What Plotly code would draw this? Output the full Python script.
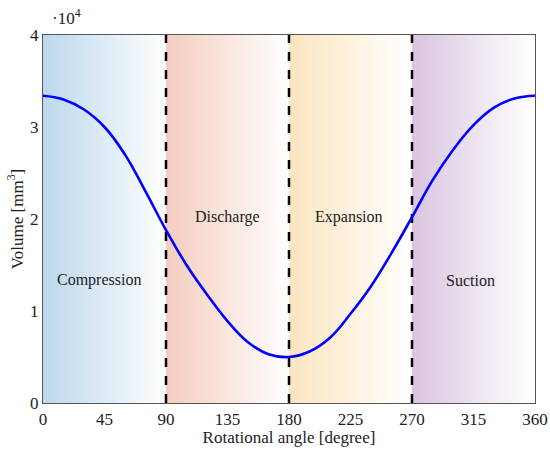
import plotly.graph_objects as go

# rotational angle [deg] and chamber volume [mm^3]
angle = [0, 15, 30, 45, 60, 75, 90, 105, 120, 135, 150, 165, 180,
         195, 210, 225, 240, 255, 270, 285, 300, 315, 330, 345, 360]
volume = [33400, 33000, 31900, 30000, 27000, 23000, 18800, 15000, 11800, 8900, 6600, 5300, 5000,
          5600, 7100, 9700, 12700, 16300, 20200, 24200, 27500, 30200, 32100, 33100, 33400]

phase_names = ['Compression', 'Discharge', 'Expansion', 'Suction']
phase_edges = [0, 90, 180, 270, 360]
phase_colors = ['#bcd8ec', '#f4cdbf', '#fae5c0', '#d9c5e0']
label_x = [41, 135, 224, 313]
label_y = [1.34, 2.02, 2.02, 1.33]

y_max = 4
font = 'Liberation Serif'

fig = go.Figure()

# gradient backgrounds for each phase
for i, name in enumerate(phase_names):
    x0, x1 = phase_edges[i], phase_edges[i + 1]
    fig.add_trace(go.Scatter(
        x=[x0, x1, x1, x0, x0], y=[0, 0, y_max, y_max, 0],
        mode='none', fill='toself',
        fillgradient=dict(type='horizontal',
                          colorscale=[[0, phase_colors[i]], [1, 'rgba(255,255,255,1)']]),
        hoverinfo='skip', showlegend=False))

# phase boundaries
for xb in phase_edges[1:-1]:
    fig.add_trace(go.Scatter(x=[xb, xb], y=[0, y_max], mode='lines',
                             line=dict(color='black', width=2.5, dash='dash'),
                             hoverinfo='skip', showlegend=False))

fig.add_trace(go.Scatter(x=angle, y=[v / 1e4 for v in volume], mode='lines',
                         line=dict(color='#0000ff', width=2.6, shape='spline', smoothing=1.2),
                         showlegend=False))

for name, lx, ly in zip(phase_names, label_x, label_y):
    fig.add_annotation(x=lx, y=ly, text=name, showarrow=False,
                       font=dict(family=font, size=16, color='#222'))

fig.add_annotation(xref='paper', yref='paper', x=0.015, y=1.0, xanchor='left', yanchor='bottom',
                   yshift=5, text='·10<sup>4</sup>', showarrow=False,
                   font=dict(family=font, size=17, color='#222'))

axis_style = dict(showgrid=False, zeroline=False, showline=True, linecolor='#555', linewidth=1.2,
                  mirror=True, ticks='', automargin=False, ticklabeloverflow='allow',
                  tickfont=dict(family=font, size=17, color='#222'))

fig.update_layout(
    width=550, height=455,
    margin=dict(l=43, r=15, t=35, b=52),
    plot_bgcolor='white', paper_bgcolor='white',
    xaxis=dict(range=[0, 360], tickvals=[0, 45, 90, 135, 180, 225, 270, 315, 360],
               title=dict(text='Rotational angle [degree]', font=dict(family=font, size=17, color='#222'),
                          standoff=2),
               **axis_style),
    yaxis=dict(range=[0, y_max], tickvals=[0, 1, 2, 3, 4],
               title=dict(text='Volume [mm<sup>3</sup>]', font=dict(family=font, size=17, color='#222'),
                          standoff=2),
               **axis_style),
)

# drop the default page margin so the 550x455 figure fills the window
fig.write_html('out.html', config={'displayModeBar': False},
               post_script="document.body.style.margin='0';")
